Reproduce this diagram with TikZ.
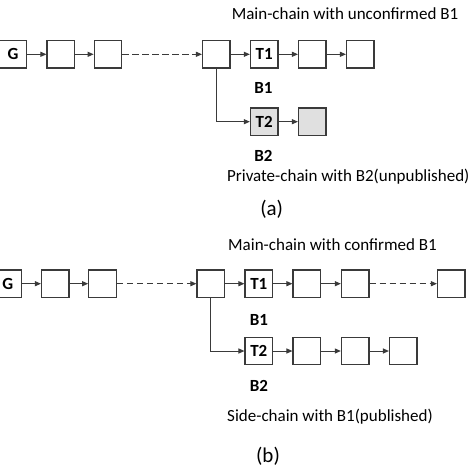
\documentclass[tikz,border=0pt]{standalone}
\usepackage{fontspec}
\setmainfont{Carlito}
\usetikzlibrary{arrows.meta}
\definecolor{linec}{HTML}{3A3A3A}
\definecolor{grayf}{HTML}{E0E0E0}
\begin{document}
\begin{tikzpicture}[x=1pt,y=-1pt,
 blk/.style={draw=linec, line width=1.2pt, minimum width=27.5pt, minimum height=27.5pt, inner sep=0pt, font=\fontsize{17}{17}\selectfont\bfseries, fill=white},
 gblk/.style={blk, fill=grayf},
 conn/.style={draw=linec, line width=1pt, -{Triangle[length=6pt,width=5pt]}},
 dconn/.style={conn, dash pattern=on 6.5pt off 3.5pt},
 lbl/.style={anchor=base, inner sep=0pt, font=\fontsize{17}{17}\selectfont},
 blbl/.style={anchor=base, inner sep=0pt, font=\fontsize{17}{17}\selectfont\bfseries},
 caplbl/.style={anchor=base, inner sep=0pt, font=\fontsize{21}{21}\selectfont}]
\useasboundingbox (0,0) rectangle (474,474);
\clip (0,0) rectangle (474,474);
% ---------- (a) ----------
\node[lbl] (ta) at (345,19) {Main-chain with unconfirmed B1};
\node[blk] (ag) at (13,54.3) {G};
\node[blk] (a1) at (60.8,54.3) {};
\node[blk] (a2) at (108,54.3) {};
\node[blk] (af) at (216.3,54.3) {};
\node[blk] (at1) at (264.2,54.3) {T1};
\node[blk] (a3) at (312.3,54.3) {};
\node[blk] (a4) at (360.3,54.3) {};
\node[gblk] (at2) at (264.2,121.7) {T2};
\node[gblk] (a5) at (312.3,121.7) {};
\draw[conn] (ag) -- (a1);
\draw[conn] (a1) -- (a2);
\draw[dconn] (a2) -- (af);
\draw[conn] (af) -- (at1);
\draw[conn] (at1) -- (a3);
\draw[conn] (a3) -- (a4);
\draw[conn] (af.south) |- (at2.west);
\draw[conn] (at2) -- (a5);
\node[blbl] (ab1) at (263.5,93) {B1};
\node[blbl] (ab2) at (263.5,161) {B2};
\node[lbl] (pa) at (348.3,181) {Private-chain with B2(unpublished)};
\node[caplbl] (capa) at (271.7,215) {(a)};
% ---------- (b) ----------
\node[lbl] (tb) at (332.5,250) {Main-chain with confirmed B1};
\node[blk] (bg) at (7.8,283.7) {G};
\node[blk] (b1) at (55.3,283.7) {};
\node[blk] (b2) at (102.5,283.7) {};
\node[blk] (bf) at (210.8,283.7) {};
\node[blk] (bt1) at (258.8,283.7) {T1};
\node[blk] (b3) at (306.8,283.7) {};
\node[blk] (b4) at (355.2,283.7) {};
\node[blk] (b5) at (451.3,283.7) {};
\node[blk] (bt2) at (258.8,351) {T2};
\node[blk] (b6) at (306.8,351) {};
\node[blk] (b7) at (355.2,351) {};
\node[blk] (b8) at (403.3,351) {};
\draw[conn] (bg) -- (b1);
\draw[conn] (b1) -- (b2);
\draw[dconn] (b2) -- (bf);
\draw[conn] (bf) -- (bt1);
\draw[conn] (bt1) -- (b3);
\draw[conn] (b3) -- (b4);
\draw[dconn] (b4) -- (b5);
\draw[conn] (bf.south) |- (bt2.west);
\draw[conn] (bt2) -- (b6);
\draw[conn] (b6) -- (b7);
\draw[conn] (b7) -- (b8);
\node[blbl] (bb1) at (259,325) {B1};
\node[blbl] (bb2) at (259,391) {B2};
\node[lbl] (sb) at (330,421) {Side-chain with B1(published)};
\node[caplbl] (capb) at (268,462) {(b)};
\end{tikzpicture}
\end{document}
